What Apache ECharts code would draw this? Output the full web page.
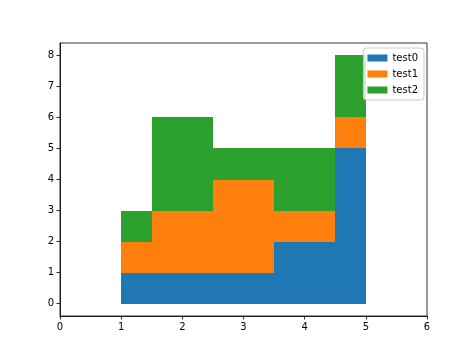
<!DOCTYPE html>
<html>
<head>
<meta charset="utf-8">
<title>stacked step hist</title>
<script src="https://cdn.jsdelivr.net/npm/echarts@6/dist/echarts.min.js"></script>
<style>
  html, body { margin: 0; height: 100%; background: #fff; }
  #main { width: 474px; height: 355px; }
</style>
</head>
<body>
<div id="main"></div>
<script>
// bin edges and counts per series
var binEdges = [1, 1.5, 2.5, 3.5, 4.5, 5];
var test0 = [1, 1, 1, 2, 5];
var test1 = [1, 2, 3, 1, 1];
var test2 = [1, 3, 1, 2, 2];
var seriesNames = ['test0', 'test1', 'test2'];
var seriesColors = ['#1f77b4', '#ff7f0e', '#2ca02c'];
var xTicks = [0, 1, 2, 3, 4, 5, 6];
var yTicks = [0, 1, 2, 3, 4, 5, 6, 7, 8];

var allCounts = [test0, test1, test2];
var base = binEdges.slice(0, -1).map(function () { return 0; });

var series = allCounts.map(function (counts, s) {
    var rows = [];
    for (var i = 0; i < counts.length; i++) {
        rows.push([binEdges[i], binEdges[i + 1], base[i], base[i] + counts[i]]);
        base[i] += counts[i];
    }
    return {
        name: seriesNames[s],
        type: 'custom',
        itemStyle: { color: seriesColors[s] },
        encode: { x: [0, 1], y: [2, 3] },
        renderItem: function (params, api) {
            var p0 = api.coord([api.value(0), api.value(3)]);
            var p1 = api.coord([api.value(1), api.value(2)]);
            // snap to whole pixels so neighbouring bins don't show seams
            var x0 = Math.round(p0[0]), y0 = Math.round(p0[1]);
            var x1 = Math.round(p1[0]), y1 = Math.round(p1[1]);
            return {
                type: 'rect',
                shape: { x: x0, y: y0, width: x1 - x0, height: y1 - y0 },
                style: { fill: seriesColors[s] }
            };
        },
        data: rows
    };
});

var chart = echarts.init(document.getElementById('main'));
chart.setOption({
    animation: false,
    grid: {
        left: 60, right: 47, top: 43, bottom: 39,
        show: true, borderColor: '#000', borderWidth: 0.8, backgroundColor: 'transparent'
    },
    legend: {
        orient: 'vertical',
        right: 50, top: 48,
        data: seriesNames.map(function (n, i) {
            return { name: n, icon: 'rect', itemStyle: { color: seriesColors[i] } };
        }),
        itemWidth: 20, itemHeight: 7, itemGap: 6,
        padding: [5, 6, 5, 4],
        backgroundColor: 'rgba(255,255,255,0.8)',
        borderColor: '#ccc', borderWidth: 1, borderRadius: 3,
        textStyle: { fontFamily: 'DejaVu Sans', fontSize: 10, color: '#000' }
    },
    xAxis: {
        type: 'value', min: 0, max: 6, interval: 1,
        splitLine: { show: false },
        axisLine: { show: true, onZero: false, lineStyle: { color: '#000', width: 0.8 } },
        axisTick: { show: true, length: 3.5, lineStyle: { color: '#000', width: 0.8 } },
        axisLabel: {
            customValues: xTicks,
            fontFamily: 'DejaVu Sans', fontSize: 10, color: '#000', margin: 6
        }
    },
    yAxis: {
        type: 'value', min: -0.4, max: 8.4,
        splitLine: { show: false },
        axisLine: { show: true, onZero: false, lineStyle: { color: '#000', width: 0.8 } },
        axisTick: { show: true, length: 3.5, customValues: yTicks, lineStyle: { color: '#000', width: 0.8 } },
        axisLabel: {
            customValues: yTicks,
            fontFamily: 'DejaVu Sans', fontSize: 10, color: '#000', margin: 6
        }
    },
    series: series
});
</script>
</body>
</html>
